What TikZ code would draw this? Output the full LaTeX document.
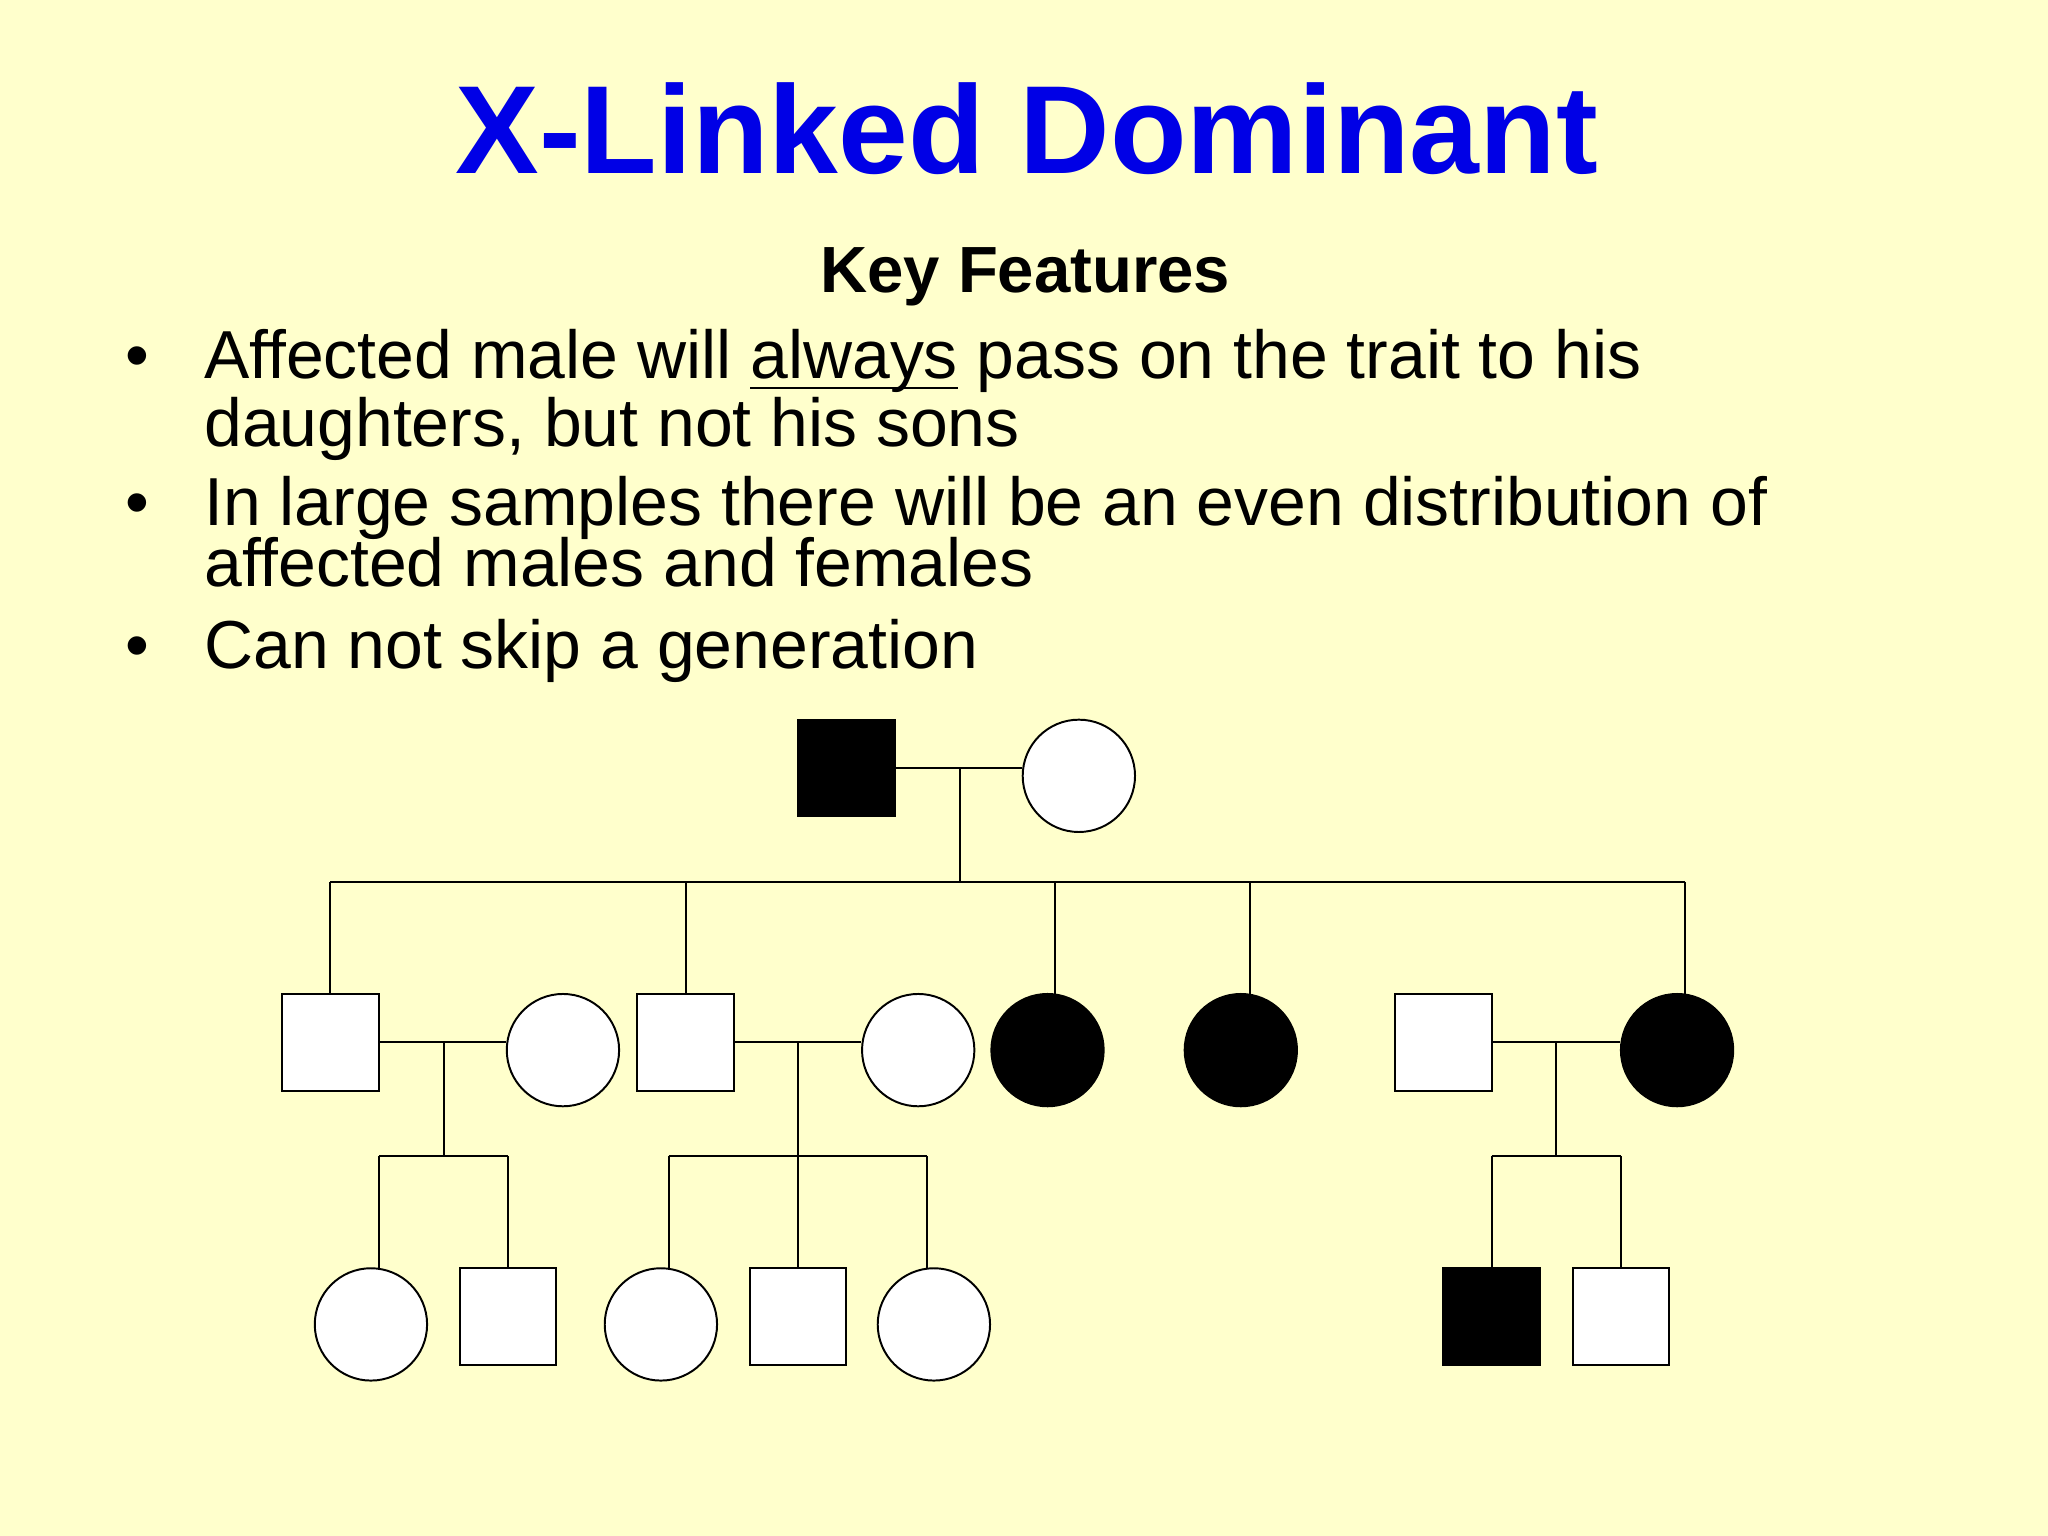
\documentclass[tikz,border=0pt]{standalone}
\usepackage{fontspec}
\setmainfont{Liberation Sans}
\newcommand\myul[1]{\setbox0\hbox{#1}\rlap{\rule[-4pt]{\wd0}{1pt}}\box0}
\begin{document}
\begin{tikzpicture}[x=0.5pt,y=-0.5pt,
  ln/.style={line width=0.75pt},
  sq/.style={draw,ln,rectangle,minimum size=37pt,inner sep=0pt},
  ci/.style={draw,ln,circle,minimum size=43pt,inner sep=0pt},
  aff/.style={fill=black},
  unaff/.style={fill=white},
  txt/.style={anchor=base west,inner sep=0pt,font=\fontsize{26}{30}\selectfont},
  bul/.style={anchor=base,inner sep=0pt,font=\fontsize{26}{30}\selectfont}]
\fill[fill={rgb,255:red,255;green,255;blue,204}] (0,0) rectangle (1568,1176);
\useasboundingbox (0,0) rectangle (1568,1176);
\node[anchor=base,inner sep=0pt,text={rgb,255:red,0;green,0;blue,230},font=\fontsize{48}{56}\selectfont\bfseries] (title) at (786,133) {X-Linked Dominant};
\node[anchor=base,inner sep=0pt,font=\fontsize{25}{30}\selectfont\bfseries] (key) at (785,224) {Key Features};
\node[bul] (b1) at (105,290) {•};
\node[txt] (t1a) at (156,290) {Affected male will \myul{always}\ pass on the trait to his};
\node[txt] (t1b) at (156,342) {daughters, but not his sons};
\node[bul] (b2) at (105,402) {•};
\node[txt] (t2a) at (156,402) {In large samples there will be an even distribution of};
\node[txt] (t2b) at (156,449) {affected males and females};
\node[bul] (b3) at (105,512) {•};
\node[txt] (t3) at (156,512) {Can not skip a generation};
% Gen I
\node[sq,aff] (f) at (648,588) {};
\node[ci,unaff] (m) at (826,594) {};
% Gen II
\node[sq,unaff] (a1) at (253,798) {};
\node[ci,unaff] (a1w) at (431,804) {};
\node[sq,unaff] (a2) at (525,798) {};
\node[ci,unaff] (a2w) at (703,804) {};
\node[ci,aff] (a3) at (802,804) {};
\node[ci,aff] (a4) at (950,804) {};
\node[sq,unaff] (a5h) at (1105,798) {};
\node[ci,aff] (a5) at (1284,804) {};
% Gen III
\node[ci,unaff] (c1) at (284,1014) {};
\node[sq,unaff] (c2) at (389,1008) {};
\node[ci,unaff] (c3) at (506,1014) {};
\node[sq,unaff] (c4) at (611,1008) {};
\node[ci,unaff] (c5) at (715,1014) {};
\node[sq,aff] (c6) at (1142,1008) {};
\node[sq,unaff] (c7) at (1241,1008) {};
% coordinates
\coordinate (j0) at (735,588);
\coordinate (s0) at (735,675);
\coordinate (s0l) at (253,675);
\coordinate (s0r) at (1290,675);
\coordinate (j1) at (340,798);
\coordinate (s1) at (340,885);
\coordinate (j2) at (611,798);
\coordinate (j3) at (1191,798);
\coordinate (s3) at (1191,885);
\begin{scope}[ln]
\draw (f.east|-j0) -- (m.west|-j0);
\draw (j0) -- (s0);
\draw (s0l) -- (s0r);
\draw (s0l) -- (a1.north);
\draw (525,675) -- (a2.north);
\draw (808,675) -- (808,761);
\draw (957,675) -- (957,761);
\draw (s0r) -- (1290,761);
\draw (a1.east) -- (a1w.west|-a1.east);
\draw (a2.east) -- (a2w.west|-a2.east);
\draw (a5h.east) -- (a5.west|-a5h.east);
\draw (j1) -- (s1); \draw (290,885) -- (389,885);
\draw (290,885) -- (290,971); \draw (389,885) -- (c2.north);
\draw (j2) -- (c4.north); \draw (512,885) -- (710,885);
\draw (512,885) -- (512,971); \draw (710,885) -- (710,971);
\draw (j3) -- (s3); \draw (1142,885) -- (1241,885);
\draw (1142,885) -- (c6.north); \draw (1241,885) -- (c7.north);
\end{scope}
\end{tikzpicture}
\end{document}
